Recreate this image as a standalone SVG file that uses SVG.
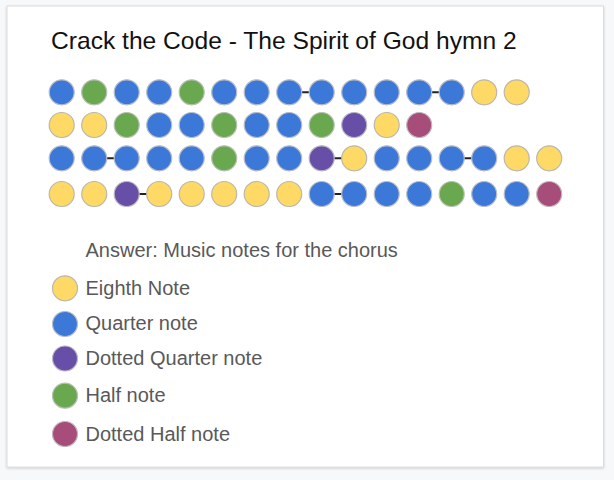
<svg xmlns="http://www.w3.org/2000/svg" width="614" height="480" viewBox="0 0 614 480">
<defs>
<filter id="sh" x="-5%" y="-5%" width="110%" height="110%">
<feDropShadow dx="0" dy="1" stdDeviation="1.2" flood-color="#000" flood-opacity="0.18"/>
</filter>
<style>
.Y{fill:#ffd966;stroke:#bcb7a8;stroke-width:1.2}
.B{fill:#3c78d8;stroke:#b7bcc8;stroke-width:1.2}
.P{fill:#674ea7;stroke:#b9b5c2;stroke-width:1.2}
.G{fill:#6aa84f;stroke:#b8bfb5;stroke-width:1.2}
.M{fill:#a64d79;stroke:#c1b5bb;stroke-width:1.2}
.c line{stroke:#222;stroke-width:2}
.lg{font-family:"Liberation Sans",Arial,sans-serif;font-size:20px;fill:#595959}
.t{font-family:"Liberation Sans",Arial,sans-serif;font-size:24.6px;fill:#111}
</style>
</defs>
<rect width="614" height="480" fill="#f7f8fa"/>
<rect x="7" y="6" width="596.5" height="461" fill="#fff" stroke="#dcdcdc" stroke-width="1" filter="url(#sh)"/>
<text class="t" x="51" y="48.5">Crack the Code - The Spirit of God hymn 2</text>
<g id="connectors" class="c">
<line x1="289.2" y1="92.3" x2="321.7" y2="92.3"/>
<line x1="419.2" y1="92.3" x2="451.7" y2="92.3"/>
<line x1="94.2" y1="158.3" x2="126.7" y2="158.3"/>
<line x1="321.7" y1="158.3" x2="354.2" y2="158.3"/>
<line x1="451.7" y1="158.3" x2="484.2" y2="158.3"/>
<line x1="126.7" y1="194" x2="159.2" y2="194"/>
<line x1="321.7" y1="194" x2="354.2" y2="194"/>
</g>
<g id="row1">
<circle class="B" cx="61.7" cy="92.3" r="12.5"/>
<circle class="G" cx="94.2" cy="92.3" r="12.5"/>
<circle class="B" cx="126.7" cy="92.3" r="12.5"/>
<circle class="B" cx="159.2" cy="92.3" r="12.5"/>
<circle class="G" cx="191.7" cy="92.3" r="12.5"/>
<circle class="B" cx="224.2" cy="92.3" r="12.5"/>
<circle class="B" cx="256.7" cy="92.3" r="12.5"/>
<circle class="B" cx="289.2" cy="92.3" r="12.5"/>
<circle class="B" cx="321.7" cy="92.3" r="12.5"/>
<circle class="B" cx="354.2" cy="92.3" r="12.5"/>
<circle class="B" cx="386.7" cy="92.3" r="12.5"/>
<circle class="B" cx="419.2" cy="92.3" r="12.5"/>
<circle class="B" cx="451.7" cy="92.3" r="12.5"/>
<circle class="Y" cx="484.2" cy="92.3" r="12.5"/>
<circle class="Y" cx="516.7" cy="92.3" r="12.5"/>
</g>
<g id="row2">
<circle class="Y" cx="61.7" cy="125" r="12.5"/>
<circle class="Y" cx="94.2" cy="125" r="12.5"/>
<circle class="G" cx="126.7" cy="125" r="12.5"/>
<circle class="B" cx="159.2" cy="125" r="12.5"/>
<circle class="B" cx="191.7" cy="125" r="12.5"/>
<circle class="G" cx="224.2" cy="125" r="12.5"/>
<circle class="B" cx="256.7" cy="125" r="12.5"/>
<circle class="B" cx="289.2" cy="125" r="12.5"/>
<circle class="G" cx="321.7" cy="125" r="12.5"/>
<circle class="P" cx="354.2" cy="125" r="12.5"/>
<circle class="Y" cx="386.7" cy="125" r="12.5"/>
<circle class="M" cx="419.2" cy="125" r="12.5"/>
</g>
<g id="row3">
<circle class="B" cx="61.7" cy="158.3" r="12.5"/>
<circle class="B" cx="94.2" cy="158.3" r="12.5"/>
<circle class="B" cx="126.7" cy="158.3" r="12.5"/>
<circle class="B" cx="159.2" cy="158.3" r="12.5"/>
<circle class="B" cx="191.7" cy="158.3" r="12.5"/>
<circle class="G" cx="224.2" cy="158.3" r="12.5"/>
<circle class="B" cx="256.7" cy="158.3" r="12.5"/>
<circle class="B" cx="289.2" cy="158.3" r="12.5"/>
<circle class="P" cx="321.7" cy="158.3" r="12.5"/>
<circle class="Y" cx="354.2" cy="158.3" r="12.5"/>
<circle class="B" cx="386.7" cy="158.3" r="12.5"/>
<circle class="B" cx="419.2" cy="158.3" r="12.5"/>
<circle class="B" cx="451.7" cy="158.3" r="12.5"/>
<circle class="B" cx="484.2" cy="158.3" r="12.5"/>
<circle class="Y" cx="516.7" cy="158.3" r="12.5"/>
<circle class="Y" cx="549.2" cy="158.3" r="12.5"/>
</g>
<g id="row4">
<circle class="Y" cx="61.7" cy="194" r="12.5"/>
<circle class="Y" cx="94.2" cy="194" r="12.5"/>
<circle class="P" cx="126.7" cy="194" r="12.5"/>
<circle class="Y" cx="159.2" cy="194" r="12.5"/>
<circle class="Y" cx="191.7" cy="194" r="12.5"/>
<circle class="Y" cx="224.2" cy="194" r="12.5"/>
<circle class="Y" cx="256.7" cy="194" r="12.5"/>
<circle class="Y" cx="289.2" cy="194" r="12.5"/>
<circle class="B" cx="321.7" cy="194" r="12.5"/>
<circle class="B" cx="354.2" cy="194" r="12.5"/>
<circle class="B" cx="386.7" cy="194" r="12.5"/>
<circle class="B" cx="419.2" cy="194" r="12.5"/>
<circle class="G" cx="451.7" cy="194" r="12.5"/>
<circle class="B" cx="484.2" cy="194" r="12.5"/>
<circle class="B" cx="516.7" cy="194" r="12.5"/>
<circle class="M" cx="549.2" cy="194" r="12.5"/>
</g>
<g id="legend">
<text class="lg" x="85.5" y="257">Answer: Music notes for the chorus</text>
<g id="leg-eighth"><circle class="Y" cx="65" cy="288.3" r="12.5"/><text class="lg" x="85.5" y="294.5">Eighth Note</text></g>
<g id="leg-quarter"><circle class="B" cx="65" cy="324" r="12.5"/><text class="lg" x="85.5" y="330">Quarter note</text></g>
<g id="leg-dq"><circle class="P" cx="65" cy="358.5" r="12.5"/><text class="lg" x="85.5" y="365">Dotted Quarter note</text></g>
<g id="leg-half"><circle class="G" cx="65" cy="395.7" r="12.5"/><text class="lg" x="85.5" y="402">Half note</text></g>
<g id="leg-dh"><circle class="M" cx="65" cy="434" r="12.5"/><text class="lg" x="85.5" y="440.5">Dotted Half note</text></g>
</g>
</svg>
